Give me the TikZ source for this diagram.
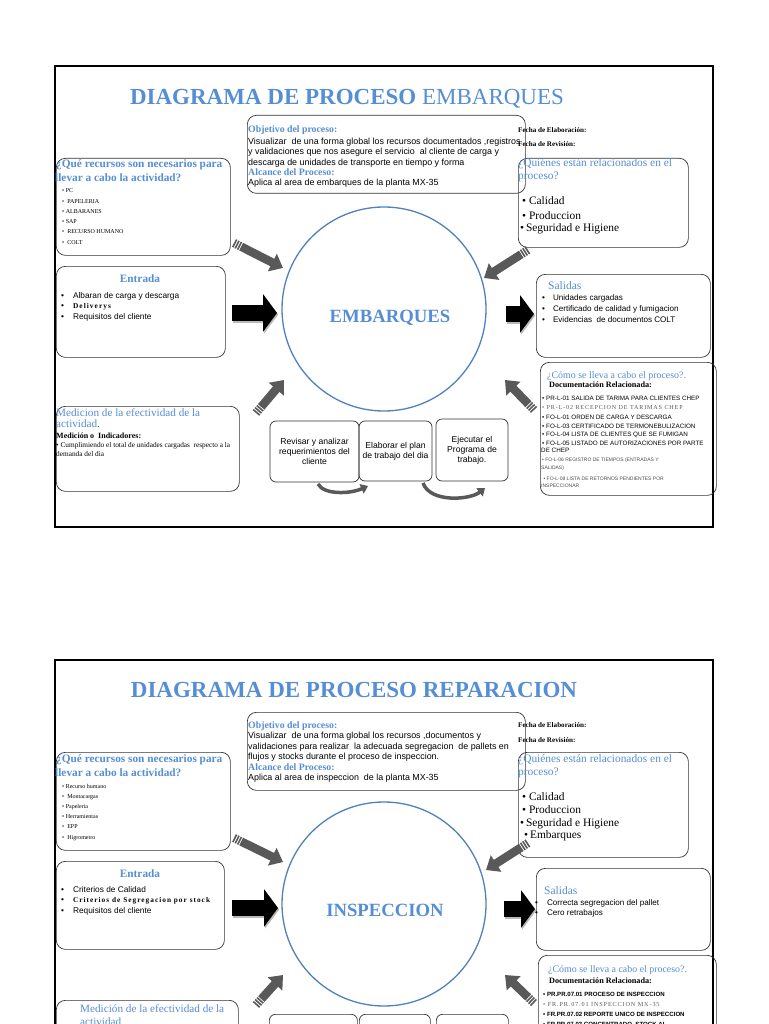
\documentclass[tikz,border=0pt]{standalone}
\usepackage{fontspec}
\setmainfont{Liberation Serif}
\newfontfamily\sans{Liberation Sans}
\newfontfamily\spc[LetterSpace=14]{Liberation Serif}
\usetikzlibrary{arrows.meta,calc}
\definecolor{hblue}{HTML}{558ED5}
\definecolor{cblue}{HTML}{4F81BD}
\definecolor{garr}{HTML}{595959}
\newcommand{\fs}[2]{\fontsize{#1}{#2}\selectfont}
\newcommand{\bx}[6][rbox]{\node[#1, anchor=north west, minimum width={(#5-#3)*1pt}, minimum height={(#6-#4)*1pt}] (#2) at (#3,#4) {};}
\newcommand{\grayarrow}[2]{%
  \draw[garrow, dash pattern=on 1.6pt off 1.1pt] (#1) -- ($(#1)!7.5pt!(#2)$);
  \draw[garrow, -{Triangle[length=12pt,width=19pt]}] ($(#1)!8pt!(#2)$) -- (#2);}
\newcommand{\blackarrow}[2]{%
  \draw[barrow, draw=gray!55, transform canvas={shift={(1.2pt,-1.6pt)}}] (#1) -- (#2);
  \draw[barrow] (#1) -- (#2);}
\tikzset{
  frame/.style={draw=black, line width=1.1pt},
  rbox/.style={draw=black!80, line width=0.7pt, rounded corners=9pt, inner sep=0pt},
  pbox/.style={draw=black!80, line width=0.7pt, rounded corners=6pt, inner sep=0pt, align=center, font=\sans\fs{8.6}{9.8}},
  txt/.style={inner sep=0pt, anchor=base west},
  ttl/.style={inner sep=0pt, anchor=base, text=hblue, font=\fs{23}{26}},
  head/.style={txt, text=hblue, font=\bfseries\fs{9.8}{10}},
  body/.style={txt, font=\sans\fs{8.9}{10}},
  fecha/.style={txt, font=\bfseries\fs{7.1}{8}},
  qtitle/.style={txt, text=hblue, font=\fs{11.4}{12}},
  qlist/.style={txt, font=\fs{11.4}{13}},
  rtitle/.style={txt, text=hblue, font=\bfseries\fs{11.3}{12}},
  rlist/.style={txt, font=\fs{6}{7}},
  etitle/.style={inner sep=0pt, anchor=base, text=hblue, font=\bfseries\fs{11.3}{12}},
  elist/.style={txt, font=\sans\fs{8.3}{9}},
  stitle/.style={txt, text=hblue, font=\fs{11.5}{12}},
  slist/.style={txt, font=\sans\fs{8.1}{9}},
  ctitle/.style={txt, text=hblue, font=\fs{9.9}{11}},
  cdoc/.style={txt, font=\bfseries\fs{8.2}{9}},
  clist/.style={txt, font=\sans\fs{6.3}{7}},
  clistg/.style={txt, text=black!65, font=\spc\fs{6.1}{7}},
  clists/.style={txt, text=black!70, font=\sans\fs{5}{6}},
  mtitle/.style={txt, text=hblue, font=\fs{11.2}{12}},
  mhead/.style={txt, font=\bfseries\fs{8}{8}},
  mbody/.style={txt, font=\fs{7.3}{7}},
  cname/.style={inner sep=0pt, anchor=base, text=hblue, font=\bfseries\fs{18.7}{20}},
  circ/.style={draw=cblue, line width=1.3pt, circle, inner sep=0pt, minimum size=204pt},
  garrow/.style={draw=garr, line width=8.5pt},
  barrow/.style={draw=black, line width=16pt, -{Triangle[length=14pt,width=37pt]}},
  carrow/.style={draw=garr, line width=3.5pt, -{Triangle[length=7pt,width=10pt]}},
}
\begin{document}
\begin{tikzpicture}[x=1pt,y=-1pt]
\useasboundingbox (0,0) rectangle (768,1024);
\clip (0,0) rectangle (768,1024);
\fill[white] (0,0) rectangle (768,1024);

%% ================= PANEL 1 =================
\draw[frame] (55,66) rectangle (713,527);
\node[ttl] (a-title) at (347,104.5) {\textbf{DIAGRAMA DE PROCESO} EMBARQUES};

% objetivo
\bx{a-obj}{247}{115}{525}{193}
\node[head] (a-oh) at (248,133) {Objetivo del proceso:};
\node[body] (a-o1) at (248,144.5) {Visualizar\ \ de una forma global los recursos documentados ,registros};
\node[body] (a-o2) at (248,155) {y validaciones que nos asegure el servicio\ \ al cliente de carga y};
\node[body] (a-o3) at (248,165.5) {descarga de unidades de transporte en tiempo y forma};
\node[head] (a-ah) at (248,175.5) {Alcance del Proceso:};
\node[body] (a-a1) at (248,186) {Aplica al area de embarques de la planta MX-35};

% fechas
\node[fecha] (a-f1) at (518,133) {Fecha de Elaboración:};
\node[fecha] (a-f2) at (518,147) {Fecha de Revisión:};

% quienes
\bx{a-qui}{518}{158}{688}{247}
\node[qtitle] (a-q1) at (518,167) {¿Quiénes están relacionados en el};
\node[qtitle] (a-q2) at (518,180) {proceso?};
\node[qlist] (a-ql1) at (522,205) {\textbullet\ Calidad};
\node[qlist] (a-ql2) at (522,219) {\textbullet\ Produccion};
\node[qlist] (a-ql3) at (520,232) {\textbullet\,Seguridad e Higiene};

% recursos
\bx{a-rec}{56}{158}{230}{255}
\node[rtitle] (a-r1) at (56,168) {¿Qué recursos son necesarios para};
\node[rtitle] (a-r2) at (55,182) {llevar a cabo la actividad?};
\foreach \t/\y [count=\i] in {PC/193,\ PAPELERIA/203.2,ALBARANES/213.4,SAP/223.6,\ RECURSO HUMANO/233.8,\ COLT/244}
  \node[rlist] (a-rl\i) at (62,\y) {\textbullet\ \t};

% circle
\node[circ] (a-circ) at (384,309) {};
\node[cname] (a-cn) at (390,322.5) {EMBARQUES};

% entrada
\bx{a-ent}{56}{266}{225}{357}
\node[etitle] (a-et) at (140,282) {Entrada};
\node[elist] (a-e1) at (61,298) {\textbullet\hspace{9pt}Albaran de carga y descarga};
\node[elist] (a-e2) at (61,308.5) {\textbullet\hspace{9pt}{\spc\bfseries\fs{7.4}{8}Deliverys}};
\node[elist] (a-e3) at (61,319) {\textbullet\hspace{9pt}Requisitos del cliente};

% salidas
\bx{a-sal}{536}{274}{710}{357}
\node[stitle] (a-st) at (548,289) {Salidas};
\node[slist] (a-s1) at (542,300) {\textbullet\hspace{8pt}Unidades cargadas};
\node[slist] (a-s2) at (542,311) {\textbullet\hspace{8pt}Certificado de calidad y fumigacion};
\node[slist] (a-s3) at (542,322) {\textbullet\hspace{8pt}Evidencias\ \ de documentos COLT};

% como
\bx{a-com}{540}{362}{716}{495}
\node[ctitle] (a-ct) at (547,378) {¿Cómo se lleva a cabo el proceso?.};
\node[cdoc] (a-cd) at (549,387) {Documentación Relacionada:};
\node[clist] (a-c1) at (542,400) {\textbullet\ PR-L-01 SALIDA DE TARIMA PARA CLIENTES CHEP};
\node[clistg] (a-c2) at (542,409.5) {\textbullet\ PR-L-02 RECEPCION DE TARIMAS CHEP};
\node[clist] (a-c3) at (542,419) {\textbullet\ FO-L-01 ORDEN DE CARGA Y DESCARGA};
\node[clist] (a-c4) at (542,428) {\textbullet\ FO-L-03 CERTIFICADO DE TERMONEBULIZACION};
\node[clist] (a-c5) at (542,436.5) {\textbullet\ FO-L-04 LISTA DE CLIENTES QUE SE FUMIGAN};
\node[clist] (a-c6) at (542,445.5) {\textbullet\ FO-L-05 LISTADO DE AUTORIZACIONES POR PARTE};
\node[clist] (a-c7) at (541,452.5) {DE CHEP};
\node[clists] (a-c8) at (542,461.5) {\textbullet\ FO-L-06 REGISTRO DE TIEMPOS (ENTRADAS Y};
\node[clists] (a-c9) at (541,469) {SALIDAS)};
\node[clists] (a-c10) at (542,480.5) {\ \textbullet\ FO-L-08 LISTA DE RETORNOS PENDIENTES POR};
\node[clists] (a-c11) at (541,487.5) {INSPECCIONAR};

% medicion
\bx{a-med}{56}{406}{239}{491}
\node[mtitle] (a-m1) at (56,416.5) {Medicion de la efectividad de la};
\node[mtitle] (a-m2) at (56,427.5) {actividad\textcolor{green!60!black}{.}};
\node[mhead] (a-m3) at (56,438.5) {Medición o\ \ Indicadores:};
\node[mbody] (a-m4) at (56,447.5) {\textbullet\ Cumplimiendo el total de unidades cargadas\ \ respecto a la};
\node[mbody] (a-m5) at (56,456.5) {demanda del dia};

% process boxes
\node[pbox, minimum width=89pt, minimum height=61pt] (a-p1) at (314.5,451.5) {Revisar y analizar\\requerimientos del\\cliente};
\node[pbox, minimum width=73pt, minimum height=60pt] (a-p2) at (395.5,451) {Elaborar el plan\\de trabajo del dia};
\node[pbox, minimum width=72pt, minimum height=62pt] (a-p3) at (472,450) {Ejecutar el\\Programa de\\trabajo.};

% curved arrows
\coordinate (a-k1s) at (318,484);
\coordinate (a-k1e) at (368,486);
\coordinate (a-k2s) at (423,483);
\coordinate (a-k2e) at (485,488);
\draw[carrow] (a-k1s) .. controls (324,495) and (350,494) .. (a-k1e);
\draw[carrow] (a-k2s) .. controls (430,503) and (470,500) .. (a-k2e);

% black arrows
\coordinate (a-b1s) at (232,313);
\coordinate (a-b1e) at (277,313);
\coordinate (a-b2s) at (506,314);
\coordinate (a-b2e) at (534,314);
\blackarrow{a-b1s}{a-b1e}
\blackarrow{a-b2s}{a-b2e}

% grey arrows
\coordinate (a-g1s) at (234,243);
\coordinate (a-g1e) at (283,268);
\coordinate (a-g2s) at (528,250);
\coordinate (a-g2e) at (484,278);
\coordinate (a-g3s) at (256,413);
\coordinate (a-g3e) at (284,380);
\coordinate (a-g4s) at (534,410);
\coordinate (a-g4e) at (505,380);
\grayarrow{a-g1s}{a-g1e}
\grayarrow{a-g2s}{a-g2e}
\grayarrow{a-g3s}{a-g3e}
\grayarrow{a-g4s}{a-g4e}

%% ================= PANEL 2 =================
\draw[frame] (55,660) rectangle (713,1100);
\node[ttl] (b-title) at (354,697.5) {\textbf{DIAGRAMA DE PROCESO REPARACION}};

\bx{b-obj}{247}{712}{525}{790}
\node[head] (b-oh) at (248,728) {Objetivo del proceso:};
\node[body] (b-o1) at (248,738.5) {Visualizar\ \ de una forma global los recursos ,documentos y};
\node[body] (b-o2) at (248,749) {validaciones para realizar\ \ la adecuada segregacion\ \ de pallets en};
\node[body] (b-o3) at (248,759.5) {flujos y stocks durante el proceso de inspeccion.};
\node[head] (b-ah) at (248,770) {Alcance del Proceso:};
\node[body] (b-a1) at (248,780.5) {Aplica al area de inspeccion\ \ de la planta MX-35};

\node[fecha] (b-f1) at (518,727) {Fecha de Elaboración:};
\node[fecha] (b-f2) at (518,742) {Fecha de Revisión:};

\bx{b-qui}{518}{752}{688}{857}
\node[qtitle] (b-q1) at (518,762) {¿Quiénes están relacionados en el};
\node[qtitle] (b-q2) at (518,775) {proceso?};
\node[qlist] (b-ql1) at (522,800) {\textbullet\ Calidad};
\node[qlist] (b-ql2) at (522,813) {\textbullet\ Produccion};
\node[qlist] (b-ql3) at (520,826) {\textbullet\,Seguridad e Higiene};
\node[qlist] (b-ql4) at (524,838) {\textbullet\,Embarques};

\bx{b-rec}{56}{752}{230}{850}
\node[rtitle] (b-r1) at (56,762) {¿Qué recursos son necesarios para};
\node[rtitle] (b-r2) at (55,776) {llevar a cabo la actividad?};
\foreach \t/\y [count=\i] in {Recurso humano/788,\ Montacargas/798.2,Papeleria/808.4,Herramientas/818.6,\ EPP/828.8,\ Higrometro/839}
  \node[rlist] (b-rl\i) at (62,\y) {\textbullet\ \t};

\node[circ] (b-circ) at (384,904) {};
\node[cname] (b-cn) at (385,916.5) {INSPECCION};

\bx{b-ent}{56}{861}{224}{949}
\node[etitle] (b-et) at (140,877) {Entrada};
\node[elist] (b-e1) at (61,892) {\textbullet\hspace{9pt}Criterios de Calidad};
\node[elist] (b-e2) at (61,902.5) {\textbullet\hspace{9pt}{\spc\bfseries\fs{7.3}{8}Criterios de Segregacion por stock}};
\node[elist] (b-e3) at (61,913) {\textbullet\hspace{9pt}Requisitos del cliente};

\bx{b-sal}{536}{868}{710}{950}
\node[stitle] (b-st) at (544,894) {Salidas};
\node[slist] (b-s1) at (535,905) {\textbullet\hspace{9pt}Correcta segregacion del pallet};
\node[slist] (b-s2) at (535,915) {\textbullet\hspace{9pt}Cero retrabajos};

\bx{b-com}{538}{955}{716}{1100}
\node[ctitle] (b-ct) at (548,972) {¿Cómo se lleva a cabo el proceso?.};
\node[cdoc] (b-cd) at (549,983) {Documentación Relacionada:};
\begin{scope}
\clip (530,940) rectangle (712,1030);
\node[clist, font=\sans\bfseries\fs{6.1}{7}] (b-c1) at (543,996) {\textbullet\ PR.PR.07.01 PROCESO DE INSPECCION};
\node[clistg, font=\spc\fs{6.2}{7}] (b-c2) at (543,1006) {\textbullet\ FR.PR.07.01 INSPECCION MX-35};
\node[clist, font=\sans\bfseries\fs{6.1}{7}] (b-c3) at (543,1016) {\textbullet\ FR.PR.07.02 REPORTE UNICO DE INSPECCION};
\node[clist, font=\sans\bfseries\fs{6.1}{7}] (b-c4) at (543,1026) {\textbullet\ FR.PR.07.03 CONCENTRADO\ \ STOCK AL};
\end{scope}

\bx{b-med}{56}{1000}{238}{1090}
\node[mtitle] (b-m1) at (80,1012.5) {Medición de la efectividad de la};
\node[mtitle] (b-m2) at (80,1025.5) {actividad.};

\bx[pbox]{b-p1}{269}{1014}{357}{1075}
\bx[pbox]{b-p2}{359}{1014}{430}{1075}
\bx[pbox]{b-p3}{436}{1014}{508}{1075}

\coordinate (b-b1s) at (232,908);
\coordinate (b-b1e) at (278,908);
\coordinate (b-b2s) at (504,909);
\coordinate (b-b2e) at (535,909);
\blackarrow{b-b1s}{b-b1e}
\blackarrow{b-b2s}{b-b2e}

\coordinate (b-g1s) at (234,838);
\coordinate (b-g1e) at (283,862);
\coordinate (b-g2s) at (528,843);
\coordinate (b-g2e) at (486,870);
\coordinate (b-g3s) at (256,1005);
\coordinate (b-g3e) at (283,975);
\coordinate (b-g4s) at (534,1003);
\coordinate (b-g4e) at (505,975);
\grayarrow{b-g1s}{b-g1e}
\grayarrow{b-g2s}{b-g2e}
\grayarrow{b-g3s}{b-g3e}
\grayarrow{b-g4s}{b-g4e}
\end{tikzpicture}
\end{document}
